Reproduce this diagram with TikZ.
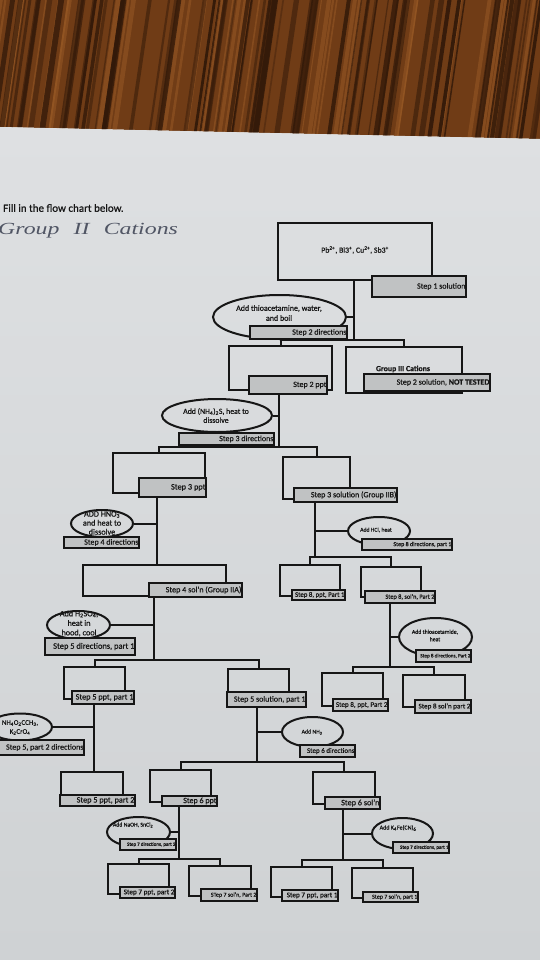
\documentclass[tikz,border=0pt]{standalone}
\usepackage{fontspec}
\setmainfont{Carlito}[FakeBold=0.7]
\newfontfamily\handfont{Liberation Serif}
\usetikzlibrary{shapes.geometric,fit}
\definecolor{ink}{RGB}{22,22,22}
\definecolor{labgray}{RGB}{192,194,195}
\definecolor{paperlight}{RGB}{222,224,226}
\definecolor{paperdark}{RGB}{207,210,212}
\definecolor{wood}{RGB}{112,60,22}
\definecolor{wooddark}{RGB}{50,25,9}
\definecolor{woodlight}{RGB}{160,95,40}
\definecolor{handink}{RGB}{80,85,100}
\newcommand{\myfs}[1]{\fontsize{#1}{#1}\selectfont}
\newcommand{\mybox}[5]{\node[boxst, fit={(#2,#3) (#4,#5)}] (#1) {};}
\newcommand{\mylab}[7]{\node[labst, fit={(#2,#3) (#4,#5)}, label={[ltxt,font=\myfs{#6}]east:{#7}}] (#1) {};}
\tikzset{
  boxst/.style={draw=ink, line width=2.1pt, inner sep=0pt},
  labst/.style={draw=ink, fill=labgray, line width=1.9pt, inner sep=0pt},
  ltxt/.style={anchor=east, inner sep=1.3pt, text=ink},
  ell/.style={draw=ink, ellipse, line width=2pt, inner sep=0pt},
  etxt/.style={align=center, text=ink, inner sep=0pt},
  conn/.style={draw=ink, line width=2pt},
}
\begin{document}
\begin{tikzpicture}[x=1pt,y=-1pt]
\useasboundingbox (0,0) rectangle (540,960);
% wood
\begin{scope}
\clip (0,0) -- (540,0) -- (540,139) -- (0,127) -- cycle;
\fill[wood] (-10,-10) rectangle (550,150);
\pgfmathsetseed{42}
\foreach \i in {1,...,40}{
  \pgfmathsetmacro\xa{rnd*620-20}
  \pgfmathsetmacro\ww{1+rnd*4}
  \draw[woodlight, line width=\ww pt, opacity=0.45] (\xa,-5) -- ++(-22,150);
}
\foreach \i in {1,...,80}{
  \pgfmathsetmacro\xa{rnd*620-20}
  \pgfmathsetmacro\ww{1+rnd*5}
  \pgfmathsetmacro\op{0.35+rnd*0.6}
  \draw[wooddark, line width=\ww pt, opacity=\op] (\xa,-5) -- ++(-22,150);
}
\end{scope}
% paper
\shade[top color=paperlight, bottom color=paperdark] (0,127) -- (540,139) -- (540,960) -- (0,960) -- cycle;

% header
\node[anchor=west, font=\myfs{11}, text=ink, inner sep=0pt] (hdr) at (3,208) {Fill in the flow chart below.};
\node[anchor=west, font=\handfont\itshape\myfs{17}, text=handink, inner sep=0pt] (hand) at (-2,231) {\scalebox{1.4}[1]{Group\hspace{0.6em}II\hspace{0.6em}Cations}};

% boxes
\mybox{pb}{278}{223}{432}{280}
\mybox{b2}{229}{346}{332}{390}
\mybox{b3}{346}{347}{462}{393}
\mybox{b4}{113}{453}{205}{493}
\mybox{b5}{283}{457}{350}{499}
\mybox{b6}{83}{565}{226}{596}
\mybox{b7}{280}{565}{340}{596}
\mybox{b8}{361}{567}{421}{597}
\mybox{b9}{64}{667}{125}{699}
\mybox{b10}{228}{669}{289}{702}
\mybox{b11}{322}{673}{383}{706}
\mybox{b12}{403}{675}{465}{707}
\mybox{b13}{61}{772}{123}{795}
\mybox{b14}{150}{770}{211}{802}
\mybox{b15}{313}{772}{375}{804}
\mybox{b16}{108}{864}{169}{894}
\mybox{b17}{189}{866}{251}{896}
\mybox{b18}{271}{867}{332}{897}
\mybox{b19}{352}{868}{413}{898}

\node[etxt, font=\myfs{7.8}] (pbt) at (355,250) {Pb\textsuperscript{2+}, Bi3\textsuperscript{+}, Cu\textsuperscript{2+}, Sb3\textsuperscript{+}};
\node[etxt, font=\bfseries\myfs{7.8}] (g3t) at (403,369) {Group III Cations};

% ellipses
\node[ell, minimum width=133pt, minimum height=44pt] (e1) at (279.5,317) {};
\node[ell, minimum width=110pt, minimum height=33pt] (e2) at (217,415.5) {};
\node[ell, minimum width=62pt, minimum height=27pt] (e3) at (102,523.5) {};
\node[ell, minimum width=62pt, minimum height=28pt] (e4) at (379,531) {};
\node[ell, minimum width=63pt, minimum height=28pt] (e5) at (78.5,625) {};
\node[ell, minimum width=73pt, minimum height=38pt] (e6) at (435.5,637) {};
\node[ell, minimum width=64pt, minimum height=27pt] (e7) at (20,727) {};
\node[ell, minimum width=61pt, minimum height=30pt] (e8) at (312.5,732) {};
\node[ell, minimum width=63pt, minimum height=30pt] (e9) at (138.5,832) {};
\node[ell, minimum width=61pt, minimum height=31pt] (e10) at (402.5,833.5) {};

\node[etxt, font=\fontsize{8}{10}\selectfont] (e1t) at (279,313) {Add thioacetamine, water,\\and boil};
\node[etxt, font=\fontsize{7.8}{9}\selectfont] (e2t) at (216,415.5) {Add (NH\textsubscript{4})\textsubscript{2}S, heat to\\dissolve};
\node[etxt, font=\fontsize{8.2}{9}\selectfont] (e3t) at (102,523) {ADD HNO\textsubscript{3}\\and heat to\\dissolve};
\node[etxt, font=\myfs{5.7}] (e4t) at (376,530) {Add HCl, heat};
\node[etxt, font=\fontsize{8.2}{9.5}\selectfont] (e5t) at (79,623.5) {Add H\textsubscript{2}SO\textsubscript{4},\\heat in\\hood, cool};
\node[etxt, font=\fontsize{5.8}{7.5}\selectfont] (e6t) at (435,635.5) {Add thioacetamide,\\heat};
\node[etxt, font=\fontsize{7}{9}\selectfont] (e7t) at (20,727.5) {NH\textsubscript{4}O\textsubscript{2}CCH\textsubscript{3},\\K\textsubscript{2}CrO\textsubscript{4}};
\node[etxt, font=\myfs{5.8}] (e8t) at (312,732) {Add NH\textsubscript{3}};
\node[etxt, font=\myfs{5.8}] (e9t) at (133,825) {Add NaOH, SnCl\textsubscript{2}};
\node[etxt, font=\myfs{6}] (e10t) at (398,828) {Add K\textsubscript{4}Fe(CN)\textsubscript{6}};

% junctions
\coordinate (j1) at (354,340);
\coordinate (j2) at (279,447);
\coordinate (c3) at (157,565);
\coordinate (j4) at (315,557);
\coordinate (j5) at (154,660);
\coordinate (j6) at (390,667);
\coordinate (c7) at (94,772);
\coordinate (j8) at (256.5,762);
\coordinate (j9) at (179,859);
\coordinate (j10) at (343,860);

% labels needed by connectors
\mylab{l1}{372}{276}{466}{297}{8}{Step 1 solution}
\mylab{l2}{249}{376}{327}{394}{8}{Step 2 ppt}
\mylab{l3}{364}{374}{490}{391}{8}{Step 2 solution, \textbf{NOT TESTED}}
\mylab{l5}{139}{478}{206}{497}{8.3}{Step 3 ppt}
\mylab{l6}{294}{488}{397}{502}{8}{Step 3 solution (Group IIB)}
\mylab{l10}{365}{591}{435}{603}{6.3}{Step 8, sol'n, Part 2}
\mylab{l11}{149}{583}{242}{597}{8.1}{Step 4 sol'n (Group IIA)}
\mylab{l13}{72}{691}{134}{704}{8.2}{Step 5 ppt, part 1}
\mylab{l14}{227}{692}{306}{707}{8}{Step 5 solution, part 1}
\mylab{l21}{162}{796}{217}{806}{8}{Step 6 ppt}
\mylab{l22}{325}{797}{380}{809}{8.2}{Step 6 sol'n}

% connectors
\draw[conn] (pb.south -| j1) -- (j1);
\draw[conn] (e1.east) -- (e1.east -| j1);
\draw[conn] (b2.north) |- (j1) -| (b3.north);
\draw[conn] (l2.south -| j2) -- (j2);
\draw[conn] (e2.east) -- (e2.east -| j2);
\draw[conn] (b4.north) |- (j2) -| (b5.north);
\draw[conn] (l5.south -| c3) -- (c3);
\draw[conn] (e3.east) -- (e3.east -| c3);
\draw[conn] (l6.south -| j4) -- (j4);
\draw[conn] (e4.west) -- (e4.west -| j4);
\draw[conn] (b7.north) |- (j4) -| (b8.north);
\draw[conn] (l11.south -| j5) -- (j5);
\draw[conn] (e5.east) -- (e5.east -| j5);
\draw[conn] (b9.north) |- (j5) -| (b10.north);
\draw[conn] (l10.south -| j6) -- (j6);
\draw[conn] (e6.west) -- (e6.west -| j6);
\draw[conn] (b11.north) |- (j6) -| (b12.north);
\draw[conn] (l13.south -| c7) -- (c7);
\draw[conn] (e7.east) -- (e7.east -| c7);
\draw[conn] (l14.south -| j8) -- (j8);
\draw[conn] (e8.west) -- (e8.west -| j8);
\draw[conn] (b14.north) |- (j8) -| (b15.north);
\draw[conn] (l21.south -| j9) -- (j9);
\draw[conn] (e9.east) -- (e9.east -| j9);
\draw[conn] (b16.north) |- (j9) -| (b17.north);
\draw[conn] (l22.south -| j10) -- (j10);
\draw[conn] (e10.west) -- (e10.west -| j10);
\draw[conn] (b18.north) |- (j10) -| (b19.north);

% remaining labels
\mylab{l1d}{250}{326}{347}{339}{8}{Step 2 directions}
\mylab{l4}{179}{433}{274}{445}{8}{Step 3 directions}
\mylab{l7}{64}{537}{139}{548}{8}{Step 4 directions}
\mylab{l8}{362}{539}{452}{550}{6}{Step 8 directions, part 1}
\mylab{l9}{292}{590}{345}{600}{6.8}{Step 8, ppt, Part 1}
\mylab{l12}{45}{638}{135}{655}{8.4}{Step 5 directions, part 1}
\mylab{l15}{416}{650}{471}{662}{5.2}{Step 8 directions, Part 2}
\mylab{l16}{333}{699}{388}{711}{7.1}{Step 8, ppt, Part 2}
\mylab{l17}{415}{700}{471}{713}{7.1}{Step 8 sol'n part 2}
\mylab{l18}{-3}{740}{84}{755}{8}{Step 5, part 2 directions}
\mylab{l19}{60}{795}{135}{806}{8.2}{Step 5 ppt, part 2}
\mylab{l20}{300}{745}{355}{757}{7}{Step 6 directions}
\mylab{l23}{120}{839}{176}{850}{5}{Step 7 directions, part 2}
\mylab{l24}{120}{887}{175}{898}{7.2}{Step 7 ppt, part 2}
\mylab{l25}{201}{889}{257}{901}{6}{STep 7 sol'n, Part 2}
\mylab{l26}{393}{842}{449}{853}{5}{Step 7 directions, part 1}
\mylab{l27}{282}{890}{338}{901}{7.2}{Step 7 ppt, part 1}
\mylab{l28}{363}{892}{418}{902}{6}{Step 7 sol'n, part 1}
\end{tikzpicture}
\end{document}
